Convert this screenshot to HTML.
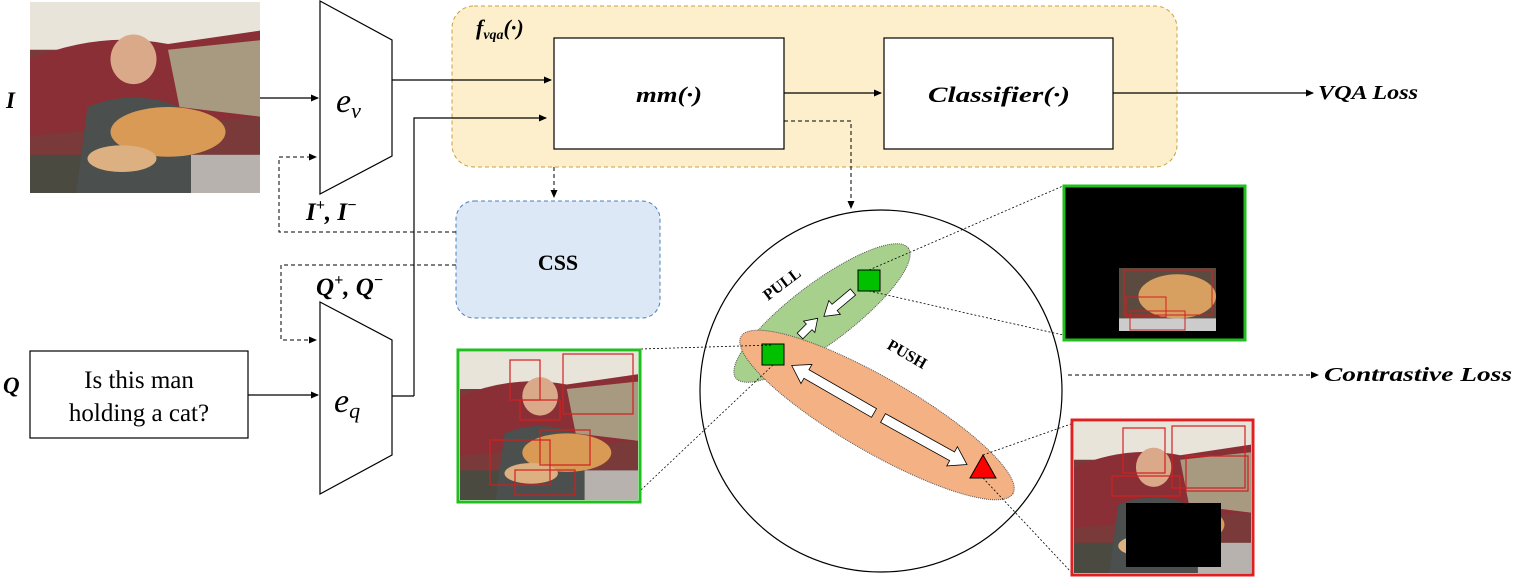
<!DOCTYPE html>
<html><head><meta charset="utf-8"><style>
html,body{margin:0;padding:0;background:#fff;width:1515px;height:579px;overflow:hidden}
svg{display:block}
text{font-family:"Liberation Serif",serif}
</style></head><body>
<svg width="1515" height="579" viewBox="0 0 1515 579" xmlns="http://www.w3.org/2000/svg">
<defs>
<marker id="ar" markerWidth="8" markerHeight="8" refX="7" refY="4" orient="auto" markerUnits="userSpaceOnUse"><path d="M0,0.5 L8,4 L0,7.5z" fill="#000"/></marker>
<g id="photo">
  <rect x="0" y="0" width="100" height="100" fill="#7a3a3a"/>
  <rect x="0" y="0" width="100" height="25" fill="#e8e4da"/>
  <path d="M0,30 Q30,15 60,22 L100,15 L100,60 L0,70z" fill="#8a2f35"/>
  <path d="M60,25 L100,20 L100,60 L65,55z" fill="#a89a80"/>
  <rect x="0" y="80" width="100" height="20" fill="#4a4a40"/>
  <path d="M20,100 L25,55 Q45,45 65,55 L75,100z" fill="#4b4f4d"/>
  <ellipse cx="45" cy="30" rx="10" ry="13" fill="#d9a98a"/>
  <ellipse cx="60" cy="68" rx="25" ry="13" fill="#d89a55"/>
  <ellipse cx="40" cy="82" rx="15" ry="7" fill="#dcb080"/>
  <rect x="70" y="80" width="30" height="20" fill="#b7b2ad"/>
</g>
</defs>

<svg x="30" y="2" width="230" height="191" viewBox="0 0 100 100" preserveAspectRatio="none"><use href="#photo"/></svg>
<text x="6" y="108" font-size="23" font-weight="bold" font-style="italic">I</text>
<line x1="260" y1="98" x2="318" y2="98" stroke="#000" stroke-width="1.2" marker-end="url(#ar)"/>

<path d="M320,1 L392,40 L392,156 L320,194z" fill="#fff" stroke="#000" stroke-width="1.2"/>
<text x="336" y="112" font-size="34" font-style="italic">e<tspan font-size="22" dy="6">v</tspan></text>
<path d="M320,302 L392,340 L392,455 L320,494z" fill="#fff" stroke="#000" stroke-width="1.2"/>
<text x="334" y="412" font-size="34" font-style="italic">e<tspan font-size="22" dy="6">q</tspan></text>

<rect x="452" y="6" width="725" height="161" rx="22" fill="#fdefcc" stroke="#c9a040" stroke-width="1" stroke-dasharray="4,3"/>
<text x="476" y="35" font-size="22" font-weight="bold" font-style="italic">f<tspan font-size="14" dy="4">vqa</tspan><tspan dy="-4">(·)</tspan></text>
<rect x="554" y="38" width="230" height="111" fill="#fff" stroke="#000" stroke-width="1.2"/>
<text x="636" y="102" font-size="22" font-weight="bold" font-style="italic" textLength="66" lengthAdjust="spacingAndGlyphs">mm(·)</text>
<rect x="884" y="38" width="229" height="111" fill="#fff" stroke="#000" stroke-width="1.2"/>
<text x="928" y="102" font-size="22" font-weight="bold" font-style="italic" textLength="142" lengthAdjust="spacingAndGlyphs">Classifier(·)</text>

<line x1="392" y1="80" x2="551" y2="80" stroke="#000" stroke-width="1.2" marker-end="url(#ar)"/>
<polyline points="414,396 414,118 546,118" fill="none" stroke="#000" stroke-width="1.2" marker-end="url(#ar)"/>
<line x1="392" y1="396" x2="414" y2="396" stroke="#000" stroke-width="1.2"/>
<line x1="784" y1="93" x2="881" y2="93" stroke="#000" stroke-width="1.2" marker-end="url(#ar)"/>
<line x1="1113" y1="93" x2="1313" y2="93" stroke="#000" stroke-width="1.2" marker-end="url(#ar)"/>
<text x="1318" y="99" font-size="20" font-weight="bold" font-style="italic" textLength="100" lengthAdjust="spacingAndGlyphs">VQA Loss</text>

<rect x="456" y="201" width="204" height="117" rx="18" fill="#dce8f5" stroke="#4a7fc0" stroke-width="1" stroke-dasharray="4,3"/>
<text x="558" y="270" font-size="22" font-weight="bold" text-anchor="middle">CSS</text>
<polyline points="554,167 554,197" fill="none" stroke="#000" stroke-dasharray="4,3" marker-end="url(#ar)"/>
<polyline points="456,232 279,232 279,157 316,157" fill="none" stroke="#000" stroke-dasharray="4,3" marker-end="url(#ar)"/>
<polyline points="456,265 281,265 281,340 316,340" fill="none" stroke="#000" stroke-dasharray="4,3" marker-end="url(#ar)"/>
<text x="306" y="220" font-size="25" font-weight="bold" font-style="italic">I<tspan font-size="16" dy="-10">+</tspan><tspan dy="10">, I</tspan><tspan font-size="16" dy="-10">−</tspan></text>
<text x="316" y="295" font-size="25" font-weight="bold" font-style="italic">Q<tspan font-size="16" dy="-10">+</tspan><tspan dy="10">, Q</tspan><tspan font-size="16" dy="-10">−</tspan></text>

<text x="3" y="393" font-size="23" font-weight="bold" font-style="italic">Q</text>
<rect x="30" y="351" width="218" height="87" fill="#fff" stroke="#000" stroke-width="1.2"/>
<text x="139" y="388" font-size="25" text-anchor="middle">Is this man</text>
<text x="139" y="421" font-size="25" text-anchor="middle">holding a cat?</text>
<line x1="248" y1="395" x2="318" y2="395" stroke="#000" stroke-width="1.2" marker-end="url(#ar)"/>

<polyline points="784,121 851,121 851,208" fill="none" stroke="#000" stroke-dasharray="4,3" marker-end="url(#ar)"/>

<circle cx="881" cy="391" r="181" fill="#fff" stroke="#000" stroke-width="1.2"/>
<ellipse cx="822" cy="313" rx="108" ry="30" transform="rotate(-37 822 313)" fill="#a8d08d" stroke="#555" stroke-dasharray="1,1"/>
<ellipse cx="877" cy="415" rx="157" ry="37" transform="rotate(30 877 415)" fill="#f4b183" stroke="#555" stroke-dasharray="1,1"/>
<g fill="#fff" stroke="#000" stroke-width="0.8">
<path d="M0,-4 L24,-4 L24,-9 L38,0 L24,9 L24,4 L0,4z" transform="translate(853,292) rotate(140)"/>
<path d="M0,-4 L13,-4 L13,-8 L25,0 L13,8 L13,4 L0,4z" transform="translate(800,336) rotate(-45)"/>
<path d="M0,-5 L78,-5 L78,-11 L95,0 L78,11 L78,5 L0,5z" transform="translate(874,413) rotate(210)"/>
<path d="M0,-5 L79,-5 L79,-11 L96,0 L79,11 L79,5 L0,5z" transform="translate(883,418) rotate(29)"/>
</g>
<rect x="858" y="270" width="22" height="21" fill="#00c000" stroke="#000"/>
<rect x="762" y="344" width="22" height="21" fill="#00c000" stroke="#000"/>
<path d="M983,455 L996,478 L970,478z" fill="#ff0000" stroke="#000"/>
<text x="0" y="0" font-size="16" font-weight="bold" transform="translate(768,301) rotate(-37)">PULL</text>
<text x="0" y="0" font-size="16" font-weight="bold" transform="translate(886,348) rotate(30)">PUSH</text>

<line x1="1068" y1="375" x2="1318" y2="375" stroke="#000" stroke-dasharray="4,3" marker-end="url(#ar)"/>
<text x="1324" y="381" font-size="20" font-weight="bold" font-style="italic" textLength="188" lengthAdjust="spacingAndGlyphs">Contrastive Loss</text>

<g stroke="#000" stroke-width="0.8" stroke-dasharray="2,2" fill="none">
<line x1="869" y1="270" x2="1063" y2="186"/>
<line x1="869" y1="291" x2="1063" y2="335"/>
<line x1="641" y1="349" x2="773" y2="345"/>
<line x1="641" y1="490" x2="773" y2="365"/>
<line x1="983" y1="455" x2="1071" y2="424"/>
<line x1="983" y1="478" x2="1071" y2="572"/>
</g>

<rect x="458" y="350" width="182" height="152" fill="none" stroke="#1fbf1f" stroke-width="3"/>
<svg x="460" y="352" width="178" height="148" viewBox="0 0 100 100" preserveAspectRatio="none"><use href="#photo"/></svg>
<g fill="none" stroke="#d02020" stroke-width="1.2">
<rect x="510" y="360" width="30" height="40"/><rect x="563" y="354" width="70" height="60"/>
<rect x="520" y="400" width="40" height="20"/><rect x="540" y="430" width="50" height="35"/>
<rect x="490" y="440" width="60" height="45"/><rect x="515" y="470" width="60" height="25"/>
</g>

<rect x="1064" y="186" width="181" height="154" fill="#000" stroke="#1fbf1f" stroke-width="3"/>
<svg x="1119" y="268" width="97" height="63" viewBox="0 0 100 100" preserveAspectRatio="none"><rect width="100" height="100" fill="#5a4a40"/><ellipse cx="60" cy="45" rx="40" ry="35" fill="#d8a060"/><rect x="0" y="80" width="100" height="20" fill="#ccc"/></svg>
<g fill="none" stroke="#d02020" stroke-width="1">
<rect x="1124" y="270" width="88" height="45"/><rect x="1126" y="297" width="40" height="20"/><rect x="1130" y="311" width="55" height="19"/>
</g>

<rect x="1072" y="420" width="181" height="155" fill="none" stroke="#e02020" stroke-width="3"/>
<svg x="1074" y="422" width="177" height="151" viewBox="0 0 100 100" preserveAspectRatio="none"><use href="#photo"/></svg>
<rect x="1126" y="503" width="95" height="64" fill="#000"/>
<g fill="none" stroke="#d02020" stroke-width="1.2">
<rect x="1123" y="428" width="42" height="45"/><rect x="1172" y="426" width="73" height="62"/>
<rect x="1112" y="476" width="68" height="20"/><rect x="1186" y="456" width="62" height="35"/>
</g>
</svg>
</body></html>
